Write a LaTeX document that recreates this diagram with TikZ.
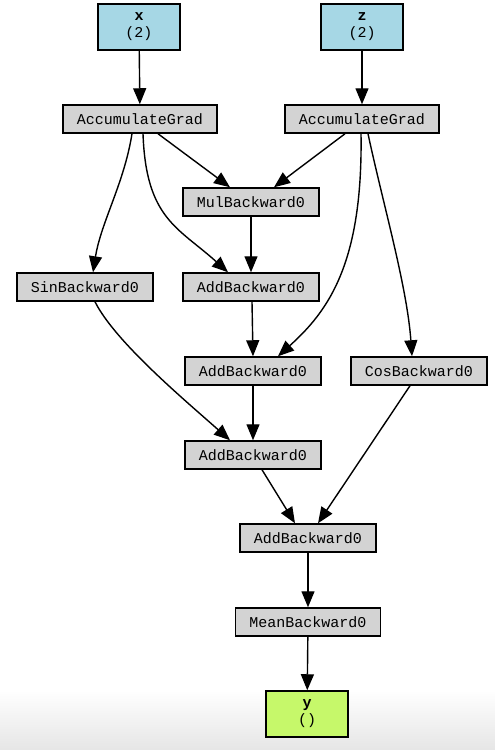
\documentclass[tikz,border=0pt]{standalone}
\usepackage{fontspec}
\setmonofont{Liberation Mono}
\usetikzlibrary{arrows.meta}
\definecolor{inblue}{HTML}{A6D7E5}
\definecolor{opgray}{HTML}{D3D3D3}
\definecolor{outgreen}{HTML}{C6F86A}
\begin{document}
\begin{tikzpicture}[x=1pt,y=-1pt,
  op/.style={draw=black,line width=1.5pt,fill=opgray,inner xsep=14pt,inner ysep=0pt,minimum height=28pt,font=\ttfamily\fontsize{15}{17}\selectfont},
  leaf/.style={draw=black,line width=1.5pt,inner sep=0pt,minimum width=82pt,minimum height=46pt,align=center,font=\ttfamily\fontsize{15}{17}\selectfont},
  arr/.style={line width=1.4pt,-{Triangle[length=16pt,width=13pt]}}]
\useasboundingbox (0,0) rectangle (495,750);
\shade[top color=white,bottom color=black!10] (0,690) rectangle (495,750);
\node[leaf,fill=inblue] (x) at (139,27) {\textbf{x}\\(2)};
\node[leaf,fill=inblue] (z) at (362,27) {\textbf{z}\\(2)};
\node[op] (accl) at (140,119) {AccumulateGrad};
\node[op] (accr) at (362,119) {AccumulateGrad};
\node[op] (mul) at (251,202) {MulBackward0};
\node[op] (sin) at (85,287) {SinBackward0};
\node[op] (add1) at (251,287) {AddBackward0};
\node[op] (add2) at (253,371) {AddBackward0};
\node[op] (cos) at (419,371) {CosBackward0};
\node[op] (add3) at (253,455) {AddBackward0};
\node[op] (add4) at (308,538) {AddBackward0};
\node[op] (mean) at (308,622) {MeanBackward0};
\node[leaf,fill=outgreen] (y) at (307,714) {\textbf{y}\\()};
\draw[arr] (x) -- (accl);
\draw[arr] (z) -- (accr);
\draw[arr] ([xshift=18pt]accl.south) -- ([xshift=-21pt]mul.north);
\draw[arr] ([xshift=-17pt]accr.south) -- ([xshift=23pt]mul.north);
\draw[arr] ([xshift=-8pt]accl.south) .. controls +(-8,50) and +(8,-50) .. ([xshift=8pt]sin.north);
\draw[arr] ([xshift=3pt]accl.south) .. controls +(3,85) and +(-50,-45) .. ([xshift=-23pt]add1.north);
\draw[arr] (mul) -- (add1);
\draw[arr] ([xshift=1pt]add1.south) -- (add2.north);
\draw[arr] ([xshift=-1pt]accr.south) .. controls +(2,130) and +(50,-45) .. ([xshift=25pt]add2.north);
\draw[arr] ([xshift=6pt]accr.south) .. controls +(15,70) and +(-5,-70) .. ([xshift=-7pt]cos.north);
\draw[arr] ([xshift=10pt]sin.south) .. controls +(20,40) and +(-45,-40) .. ([xshift=-23pt]add3.north);
\draw[arr] (add2) -- (add3);
\draw[arr] ([xshift=9pt]add3.south) -- ([xshift=-13pt]add4.north);
\draw[arr] ([xshift=-9pt]cos.south) -- ([xshift=10pt]add4.north);
\draw[arr] (add4) -- (mean);
\draw[arr] (mean) -- (y);
\end{tikzpicture}
\end{document}
